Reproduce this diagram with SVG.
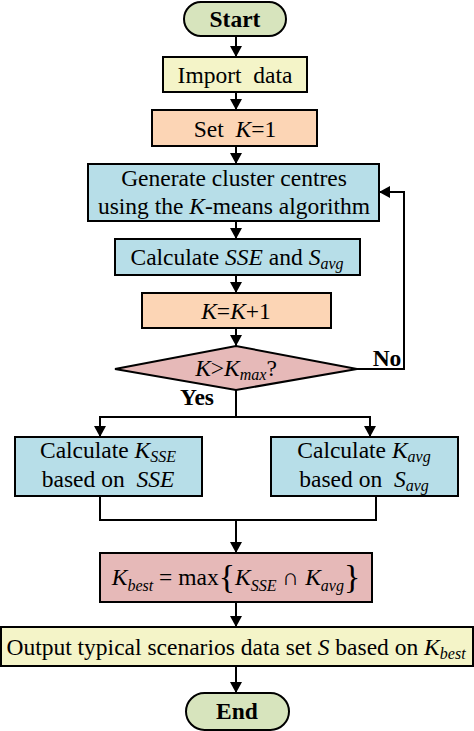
<svg xmlns="http://www.w3.org/2000/svg" width="474" height="731" viewBox="0 0 474 731">
<style>
.b{stroke:#000;stroke-width:2}
.t{font-family:"Liberation Serif","Times New Roman",serif;font-size:23.5px;fill:#000;text-anchor:middle}
.bold{font-weight:bold}
.i{font-style:italic}
.s{font-size:16px;font-style:italic}
.c{fill:none;stroke:#000;stroke-width:2}
.g{fill:#d7e4bd}.y{fill:#f4f4c8}.o{fill:#fcd5b5}.bl{fill:#b7dee8}.p{fill:#e6b9b8}
</style>
<defs>
<marker id="ah" markerUnits="userSpaceOnUse" markerWidth="14" markerHeight="12" refX="11" refY="6" orient="auto">
<path d="M0,0 L11,6 L0,12 Z" fill="#000"/>
</marker>
</defs>
<rect width="474" height="731" fill="#fff"/>
<g id="connectors">
<line class="c" x1="236" y1="36" x2="236" y2="57" marker-end="url(#ah)"/>
<line class="c" x1="236" y1="92" x2="236" y2="110" marker-end="url(#ah)"/>
<line class="c" x1="236" y1="146" x2="236" y2="164" marker-end="url(#ah)"/>
<line class="c" x1="236" y1="221" x2="236" y2="239" marker-end="url(#ah)"/>
<line class="c" x1="236" y1="275" x2="236" y2="293" marker-end="url(#ah)"/>
<line class="c" x1="236" y1="328" x2="236" y2="346" marker-end="url(#ah)"/>
<polyline class="c" points="357,369 404,369 404,192 379,192" marker-end="url(#ah)"/>
<polyline class="c" points="236,390 236,417"/>
<polyline class="c" points="100,427 100,417 370,417 370,427"/>
<line class="c" x1="100" y1="417" x2="100" y2="437" marker-end="url(#ah)"/>
<line class="c" x1="370" y1="417" x2="370" y2="437" marker-end="url(#ah)"/>
<polyline class="c" points="100,496 100,520 376,520 376,496"/>
<line class="c" x1="236" y1="520" x2="236" y2="553" marker-end="url(#ah)"/>
<line class="c" x1="236" y1="602" x2="236" y2="627" marker-end="url(#ah)"/>
<line class="c" x1="236" y1="666" x2="236" y2="693" marker-end="url(#ah)"/>
</g>
<g id="start">
<rect class="b g" x="184" y="2" width="102" height="34" rx="17"/>
<text class="t bold" x="235" y="27">Start</text>
</g>
<g id="import">
<rect class="b y" x="163" y="57" width="144" height="35"/>
<text class="t" x="235" y="83" xml:space="preserve">Import  data</text>
</g>
<g id="setk">
<rect class="b o" x="152" y="110" width="165" height="36"/>
<text class="t" x="235" y="137" xml:space="preserve">Set  <tspan class="i">K</tspan>=1</text>
</g>
<g id="generate">
<rect class="b bl" x="88" y="164" width="291" height="57"/>
<text class="t" x="234" y="186">Generate cluster centres</text>
<text class="t" x="234" y="214">using the <tspan class="i">K</tspan>-means algorithm</text>
</g>
<g id="calcsse">
<rect class="b bl" x="115" y="239" width="245" height="36"/>
<text class="t" x="237" y="265">Calculate <tspan class="i">SSE</tspan> and <tspan class="i">S</tspan><tspan class="s" dy="4">avg</tspan></text>
</g>
<g id="kplus">
<rect class="b o" x="142" y="293" width="189" height="35"/>
<text class="t" x="236" y="319"><tspan class="i">K</tspan>=<tspan class="i">K</tspan>+1</text>
</g>
<g id="decision">
<polygon class="b p" points="115,369 236,346 357,369 236,390"/>
<text class="t" x="236" y="376"><tspan class="i">K</tspan>&gt;<tspan class="i">K</tspan><tspan class="s" dy="4">max</tspan><tspan dy="-4">?</tspan></text>
<text class="t bold" x="387" y="366">No</text>
<text class="t bold" x="197" y="405">Yes</text>
</g>
<g id="ksse">
<rect class="b bl" x="15" y="437" width="187" height="59"/>
<text class="t" x="108" y="458">Calculate <tspan class="i">K</tspan><tspan class="s" font-size="15" dy="4">SSE</tspan></text>
<text class="t" x="108" y="487" xml:space="preserve">based on  <tspan class="i">SSE</tspan></text>
</g>
<g id="kavg">
<rect class="b bl" x="271" y="437" width="187" height="59"/>
<text class="t" x="364" y="458">Calculate <tspan class="i">K</tspan><tspan class="s" dy="4">avg</tspan></text>
<text class="t" x="364" y="487" xml:space="preserve">based on  <tspan class="i">S</tspan><tspan class="s" dy="4">avg</tspan></text>
</g>
<g id="kbest">
<rect class="b p" x="100" y="553" width="272" height="49"/>
<text class="t" x="236" y="585" xml:space="preserve"><tspan class="i">K</tspan><tspan class="s" font-size="14" dy="6">best</tspan><tspan dy="-6"> = max</tspan><tspan font-size="34" dy="3">{</tspan><tspan class="i" dy="-3">K</tspan><tspan class="s" font-size="14" dy="6">SSE</tspan><tspan dy="-6"> ∩ </tspan><tspan class="i">K</tspan><tspan class="s" font-size="14" dy="6">avg</tspan><tspan font-size="34" dy="-3">}</tspan></text>
</g>
<g id="output">
<rect class="b y" x="1" y="627" width="472" height="39"/>
<text class="t" x="236" y="655">Output typical scenarios data set <tspan class="i">S</tspan> based on <tspan class="i">K</tspan><tspan class="s" dy="4">best</tspan></text>
</g>
<g id="end">
<rect class="b g" x="186" y="693" width="103" height="37" rx="18.5"/>
<text class="t bold" x="237" y="719">End</text>
</g>
</svg>
